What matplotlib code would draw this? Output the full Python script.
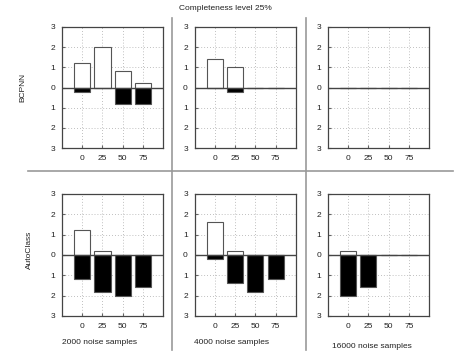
import numpy as np
import matplotlib.pyplot as plt
from matplotlib.lines import Line2D

## noise levels on x axis
levels = [0, 25, 50, 75]
methods = ["BCPNN", "AutoClass"]
samples = ["2000 noise samples", "4000 noise samples", "16000 noise samples"]

## white bars (above zero) and black bars (below zero), one list per panel
bcpnn_up = [[1.2, 2.0, 0.8, 0.2], [1.4, 1.0, 0.0, 0.0], [0.0, 0.0, 0.0, 0.0]]
bcpnn_down = [[0.2, 0.0, 0.8, 0.8], [0.0, 0.2, 0.03, 0.03], [0.0, 0.0, 0.0, 0.0]]
auto_up = [[1.2, 0.2, 0.0, 0.0], [1.6, 0.2, 0.0, 0.0], [0.2, 0.0, 0.0, 0.0]]
auto_down = [[1.2, 1.8, 2.0, 1.6], [0.2, 1.4, 1.8, 1.2], [2.0, 1.6, 0.0, 0.0]]

up = [bcpnn_up, auto_up]
down = [bcpnn_down, auto_down]

fig = plt.figure(figsize=(4.74, 3.55), dpi=100)
plt.rcParams['font.family'] = ['Liberation Sans', 'DejaVu Sans']

lefts = [0.131, 0.411, 0.692]
bottoms = [0.583, 0.110]
heights = [0.341, 0.344]
w = 0.213
edge = '#555555'

for r in range(2):
	for c in range(3):
		ax = fig.add_axes([lefts[c], bottoms[r], w, heights[r]])
		u = up[r][c]
		d = down[r][c]
		ax.bar(levels, u, width=20, color='white', edgecolor=edge, linewidth=0.8, zorder=3)
		ax.bar(levels, [-v for v in d], width=20, color='black', edgecolor=edge, linewidth=0.8, zorder=3)
		ax.axhline(0, color='#444444', linewidth=1.0, zorder=4)
		ax.set_xlim(-25, 100)
		ax.set_ylim(-3, 3)
		ax.set_xticks(levels)
		ax.set_xticklabels([str(v) for v in levels])
		ax.set_yticks([-3, -2, -1, 0, 1, 2, 3])
		ax.set_yticklabels(['3', '2', '1', '0', '1', '2', '3'])
		ax.tick_params(labelsize=6, direction='in', length=2, color='#666666', pad=5, labelcolor='#222222')
		ax.grid(True, linestyle=(0, (1, 2.5)), color='#aaaaaa', linewidth=0.6, zorder=0)
		for s in ax.spines.values():
			s.set_color('#444444')
			s.set_linewidth(0.9)

## row labels
fig.text(23/474, 1 - 88/355, methods[0], rotation=90, ha='center', va='center', fontsize=6, color='#222222')
fig.text(29/474, 1 - 250/355, methods[1], rotation=90, ha='center', va='center', fontsize=6, color='#222222')

## column labels
fig.text(100/474, 1 - 343/355, samples[0], ha='center', va='center', fontsize=6, color='#222222')
fig.text(232/474, 1 - 343/355, samples[1], ha='center', va='center', fontsize=6, color='#222222')
fig.text(372/474, 1 - 346/355, samples[2], ha='center', va='center', fontsize=6, color='#222222')

fig.text(225/474, 1 - 8/355, "Completeness level 25%", ha='center', va='center', fontsize=6, color='#222222')

## separator lines
sep = '#999999'
fig.add_artist(Line2D([172/474, 172/474], [1 - 18/355, 1 - 350/355], color=sep, linewidth=1.2))
fig.add_artist(Line2D([306/474, 306/474], [1 - 18/355, 1 - 350/355], color=sep, linewidth=1.2))
fig.add_artist(Line2D([28/474, 453/474], [1 - 171/355, 1 - 171/355], color=sep, linewidth=1.2))

plt.savefig("out.png", dpi=100)
